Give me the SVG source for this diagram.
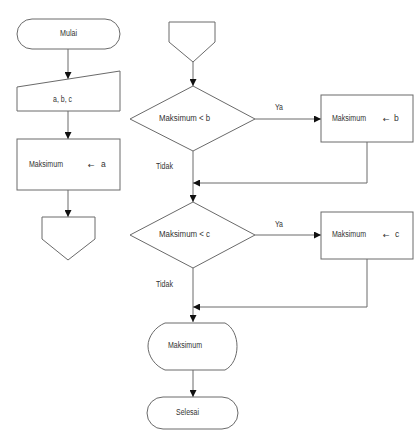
<svg xmlns="http://www.w3.org/2000/svg" width="420" height="447" viewBox="0 0 420 447">
<defs>
<marker id="ah" viewBox="0 0 10 10" refX="10" refY="5" markerWidth="7" markerHeight="7" markerUnits="userSpaceOnUse" orient="auto">
<path d="M0,0 L10,5 L0,10 Z" fill="#111"/>
</marker>
<style>
.s{fill:#fff;stroke:#6a6a6a;stroke-width:1}
.c{fill:none;stroke:#6a6a6a;stroke-width:1;marker-end:url(#ah)}
text{font-family:"Liberation Sans Narrow","Liberation Sans",Arial,sans-serif;font-size:8.5px;fill:#333;dominant-baseline:middle}
.m{text-anchor:middle}
.ar{font-family:"DejaVu Sans",sans-serif;font-size:8px}
</style>
</defs>
<rect width="420" height="447" fill="#fff"/>
<g id="connectors">
<path class="c" d="M68,49 V79"/>
<path class="c" d="M68,111 V139"/>
<path class="c" d="M68,190 V217"/>
<path class="c" d="M193,62 V86"/>
<path class="c" d="M255,119 H321"/>
<path class="c" d="M193,151 V202"/>
<path class="c" d="M367,142 V183 H193"/>
<path class="c" d="M255,235 H321"/>
<path class="c" d="M193,268 V322"/>
<path class="c" d="M367,259 V307 H193"/>
<path class="c" d="M193,370 V397"/>
<text x="275" y="108" textLength="8" lengthAdjust="spacingAndGlyphs">Ya</text>
<text x="156" y="167" textLength="17" lengthAdjust="spacingAndGlyphs">Tidak</text>
<text x="275" y="225" textLength="8" lengthAdjust="spacingAndGlyphs">Ya</text>
<text x="156" y="285" textLength="17" lengthAdjust="spacingAndGlyphs">Tidak</text>
</g>
<g id="mulai">
<rect class="s" x="17" y="19" width="103" height="30" rx="15"/>
<text x="60" y="34" textLength="17" lengthAdjust="spacingAndGlyphs">Mulai</text>
</g>
<g id="input">
<path class="s" d="M17,87 L120,71 V111 H17 Z"/>
<text x="53" y="100" textLength="19" lengthAdjust="spacingAndGlyphs">a, b, c</text>
</g>
<g id="assignA">
<rect class="s" x="17" y="139" width="103" height="51"/>
<text x="29" y="165" textLength="34" lengthAdjust="spacingAndGlyphs">Maksimum</text>
<text class="ar" x="88" y="165">←</text>
<text x="101" y="165">a</text>
</g>
<g id="offpage1">
<path class="s" d="M42,217 H95 V239 L68,260 L42,239 Z"/>
</g>
<g id="offpage2">
<path class="s" d="M169,22 H215 V42 L193,62 L169,42 Z"/>
</g>
<g id="cond1">
<path class="s" d="M193,86 L255,119 L193,151 L130,119 Z"/>
<text x="159" y="119" textLength="51" lengthAdjust="spacingAndGlyphs">Maksimum &lt; b</text>
</g>
<g id="assignB">
<rect class="s" x="321" y="95" width="92" height="47"/>
<text x="332" y="119" textLength="34" lengthAdjust="spacingAndGlyphs">Maksimum</text>
<text class="ar" x="383" y="119">←</text>
<text x="394" y="119">b</text>
</g>
<g id="cond2">
<path class="s" d="M193,202 L255,235 L193,268 L130,235 Z"/>
<text x="159" y="235" textLength="51" lengthAdjust="spacingAndGlyphs">Maksimum &lt; c</text>
</g>
<g id="assignC">
<rect class="s" x="321" y="212" width="92" height="47"/>
<text x="332" y="235" textLength="34" lengthAdjust="spacingAndGlyphs">Maksimum</text>
<text class="ar" x="383" y="235">←</text>
<text x="395" y="235">c</text>
</g>
<g id="output">
<path class="s" d="M165,323 H225 C241,331 241,362 225,370 H165 C155,366 148,356 148,346 C148,337 155,327 165,323 Z"/>
<text x="168" y="346" textLength="34" lengthAdjust="spacingAndGlyphs">Maksimum</text>
</g>
<g id="selesai">
<rect class="s" x="147" y="397" width="91" height="32" rx="16"/>
<text x="176" y="413" textLength="23" lengthAdjust="spacingAndGlyphs">Selesai</text>
</g>
</svg>
